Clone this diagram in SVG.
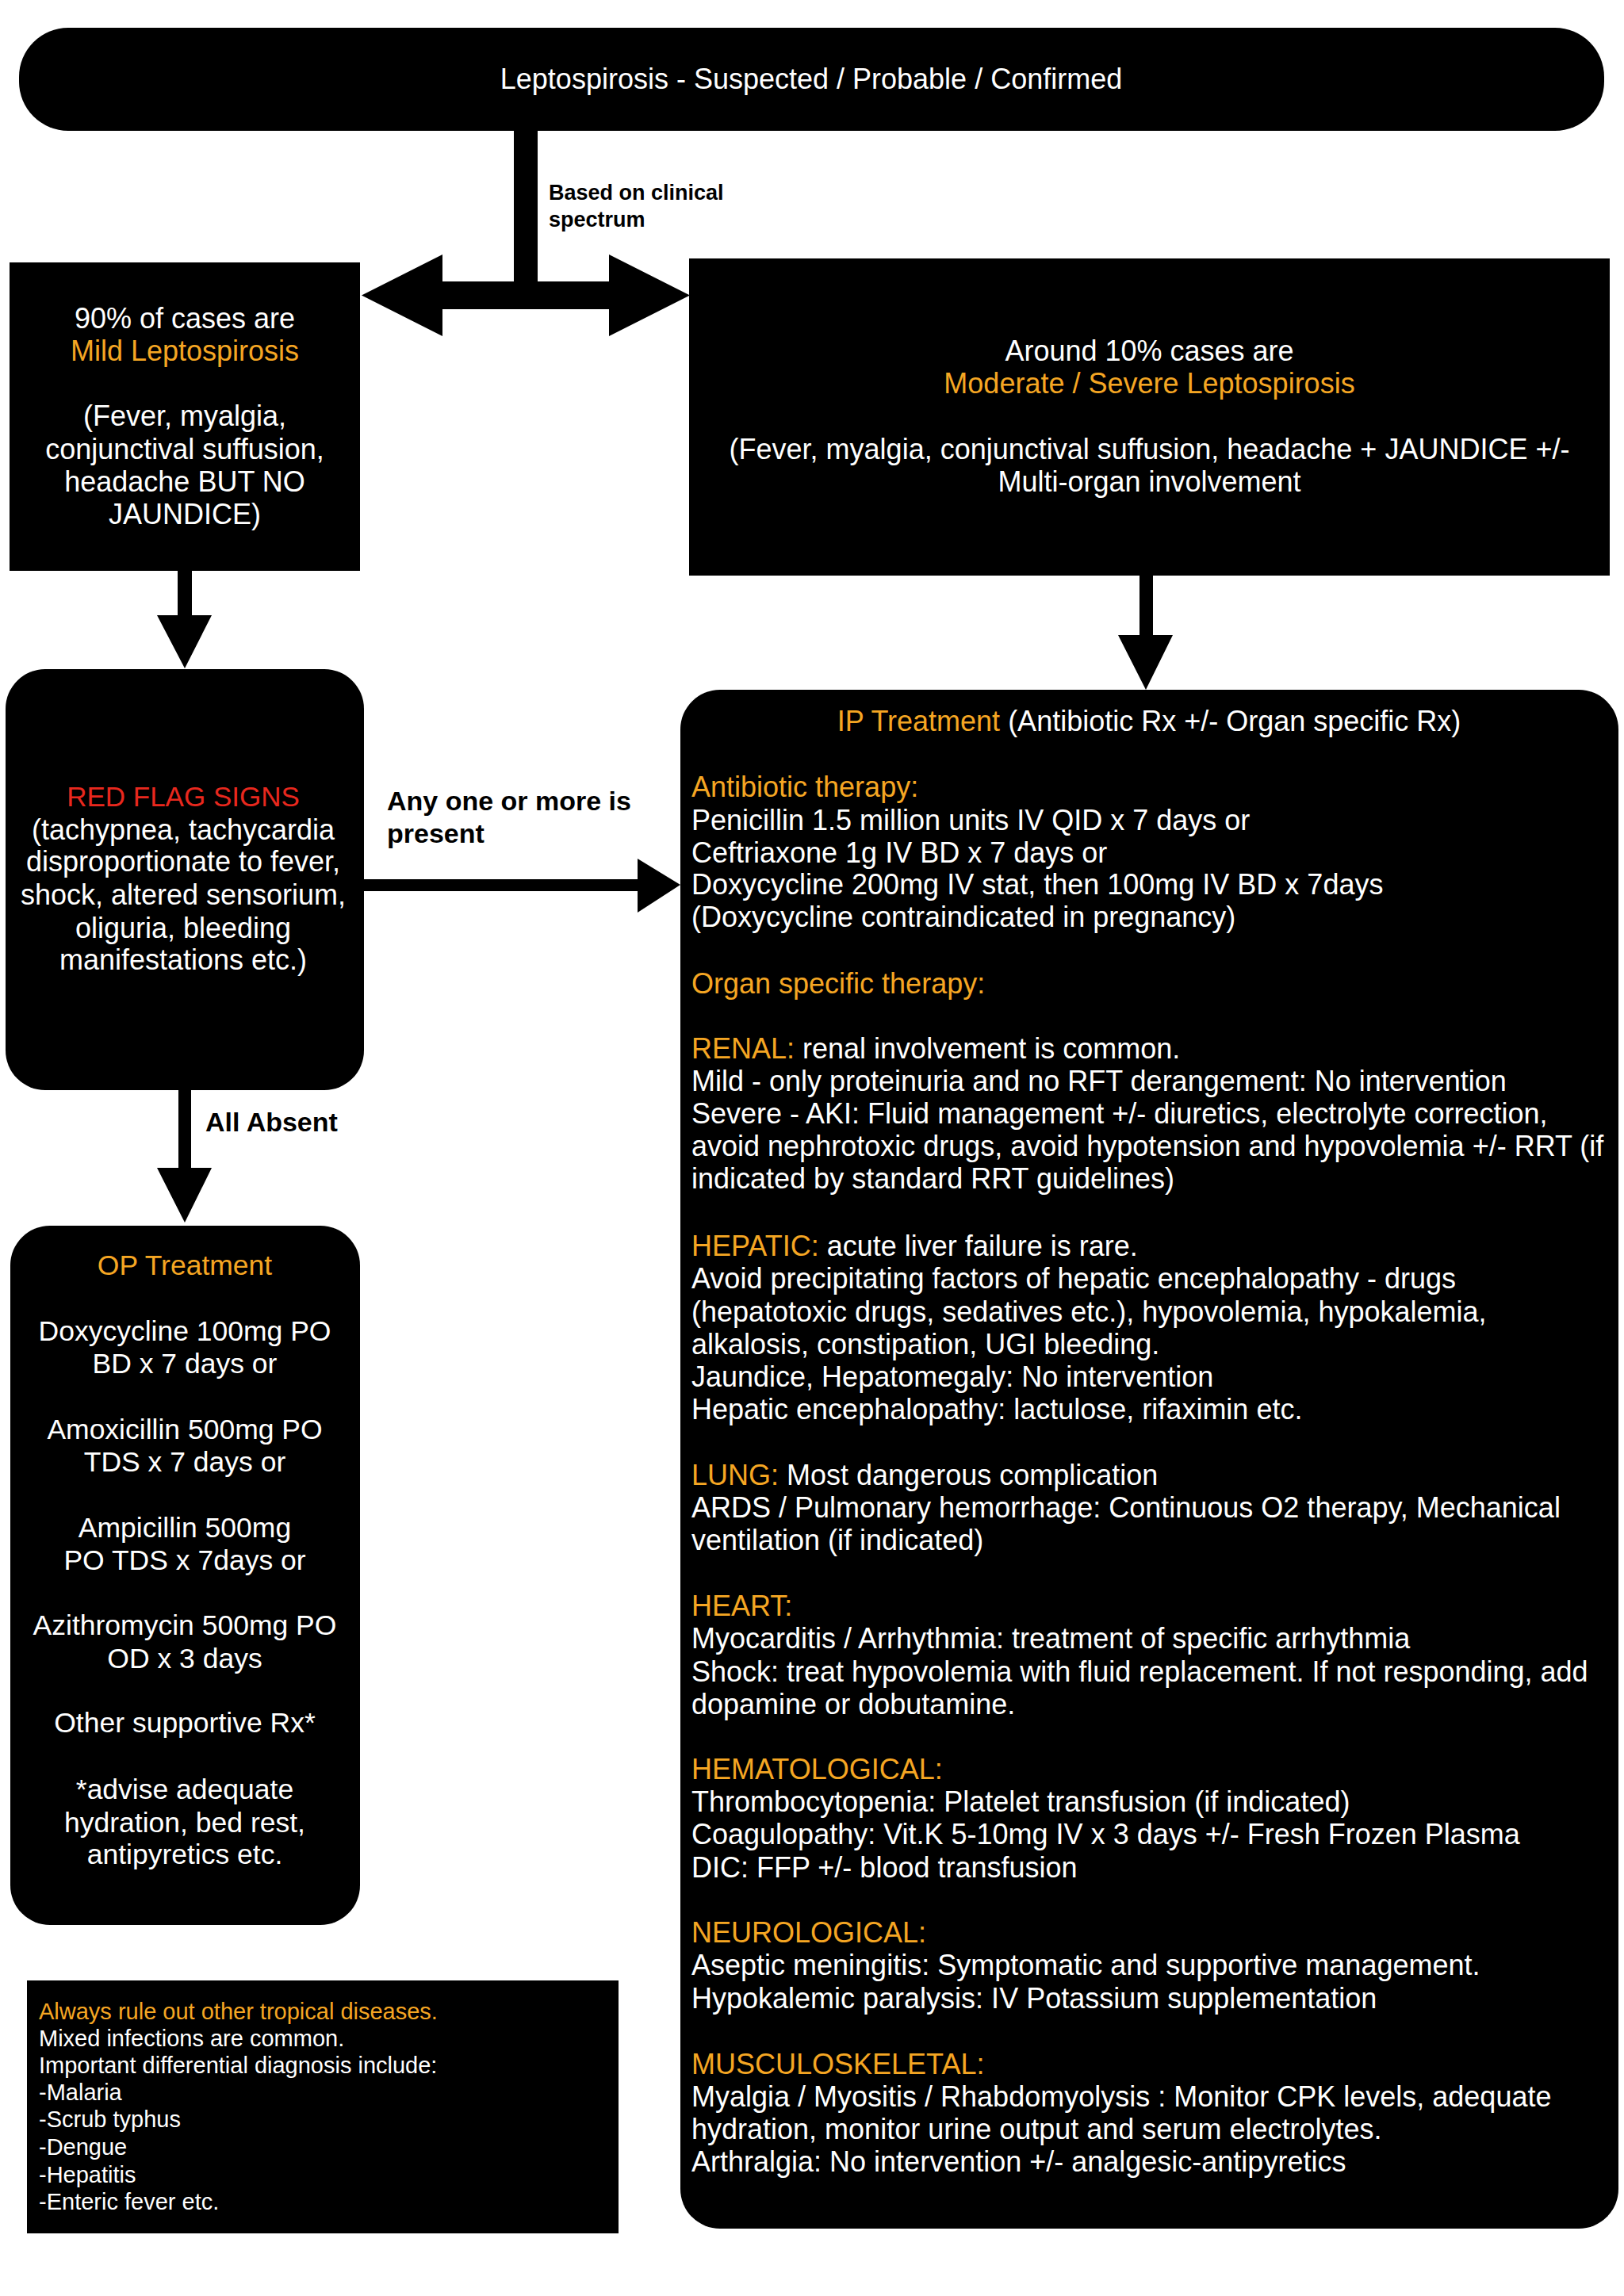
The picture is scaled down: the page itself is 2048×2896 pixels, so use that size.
<svg xmlns="http://www.w3.org/2000/svg" width="2048" height="2896" viewBox="0 0 2048 2896">
<style>
.box{fill:#000}
.t{font-family:"Liberation Sans",Arial,Helvetica,sans-serif;font-size:36px;fill:#fff}
.s{font-size:35.5px}
.ip{font-size:36px}
.n{font-size:29px}
.c{text-anchor:middle}
.o{fill:#F5A623}
.r{fill:#E8281E}
.lbl{font-family:"Liberation Sans",Arial,Helvetica,sans-serif;font-weight:bold;font-size:34px;fill:#000}
.conn{fill:#000}
</style>
<rect x="0" y="0" width="2048" height="2896" fill="#fff"/>

<g id="connectors">
<path class="conn" d="M648,160 H678 V355 H768 V321 L870,372.5 L768,424 V390 H558 V424 L456,372.5 L558,321 V355 H648 Z"/>
<path class="conn" d="M224,715 H242 V776 H267 L233,843 L198,776 H224 Z"/>
<path class="conn" d="M455,1109 H804 V1083 L858,1116 L804,1151 V1124 H455 Z"/>
<path class="conn" d="M225,1370 H241 V1473 H267 L233,1542 L198,1473 H225 Z"/>
<path class="conn" d="M1437,720 H1454 V801 H1479 L1445,870 L1410,801 H1437 Z"/>
<text class="lbl" x="692" y="252" style="font-size:27px">Based on clinical</text>
<text class="lbl" x="692" y="286" style="font-size:27px">spectrum</text>
<text class="lbl" x="488" y="1022">Any one or more is</text>
<text class="lbl" x="488" y="1063">present</text>
<text class="lbl" x="259" y="1427">All Absent</text>
</g>

<g id="node-start">
<rect class="box" x="24" y="35" width="1999" height="130" rx="62" ry="62"/>
<text class="t c" x="1023" y="112">Leptospirosis - Suspected / Probable / Confirmed</text>
</g>

<g id="node-mild">
<rect class="box" x="12" y="331" width="442" height="389"/>
<text class="t c" x="233" y="414">90% of cases are</text>
<text class="t c o" x="233" y="455">Mild Leptospirosis</text>
<text class="t c" x="233" y="537">(Fever, myalgia,</text>
<text class="t c" x="233" y="579">conjunctival suffusion,</text>
<text class="t c" x="233" y="620">headache BUT NO</text>
<text class="t c" x="233" y="661">JAUNDICE)</text>
</g>

<g id="node-moderate">
<rect class="box" x="869" y="326" width="1161" height="400"/>
<text class="t c" x="1449.5" y="455">Around 10% cases are</text>
<text class="t c o" x="1449.5" y="496">Moderate / Severe Leptospirosis</text>
<text class="t c" x="1449.5" y="579">(Fever, myalgia, conjunctival suffusion, headache + JAUNDICE +/-</text>
<text class="t c" x="1449.5" y="620">Multi-organ involvement</text>
</g>

<g id="node-redflag">
<rect class="box" x="7" y="844" width="452" height="531" rx="50" ry="50"/>
<text class="t c r" x="231" y="1017" style="font-size:35px">RED FLAG SIGNS</text>
<text class="t c" x="231" y="1059">(tachypnea, tachycardia</text>
<text class="t c" x="231" y="1099">disproportionate to fever,</text>
<text class="t c" x="231" y="1141">shock, altered sensorium,</text>
<text class="t c" x="231" y="1183">oliguria, bleeding</text>
<text class="t c" x="231" y="1223">manifestations etc.)</text>
</g>

<g id="node-op">
<rect class="box" x="13" y="1546" width="441" height="882" rx="50" ry="50"/>
<text class="t s c o" x="233" y="1608">OP Treatment</text>
<text class="t s c" x="233" y="1691">Doxycycline 100mg PO</text>
<text class="t s c" x="233" y="1732">BD x 7 days or</text>
<text class="t s c" x="233" y="1815">Amoxicillin 500mg PO</text>
<text class="t s c" x="233" y="1856">TDS x 7 days or</text>
<text class="t s c" x="233" y="1939">Ampicillin 500mg</text>
<text class="t s c" x="233" y="1980">PO TDS x 7days or</text>
<text class="t s c" x="233" y="2062">Azithromycin 500mg PO</text>
<text class="t s c" x="233" y="2104">OD x 3 days</text>
<text class="t s c" x="233" y="2185">Other supportive Rx*</text>
<text class="t s c" x="233" y="2269">*advise adequate</text>
<text class="t s c" x="233" y="2311">hydration, bed rest,</text>
<text class="t s c" x="233" y="2351">antipyretics etc.</text>
</g>

<g id="node-note">
<rect class="box" x="34" y="2498" width="746" height="319"/>
<text class="t n o" x="49" y="2547">Always rule out other tropical diseases.</text>
<text class="t n" x="49" y="2581">Mixed infections are common.</text>
<text class="t n" x="49" y="2615">Important differential diagnosis include:</text>
<text class="t n" x="49" y="2649">-Malaria</text>
<text class="t n" x="49" y="2683">-Scrub typhus</text>
<text class="t n" x="49" y="2718">-Dengue</text>
<text class="t n" x="49" y="2753">-Hepatitis</text>
<text class="t n" x="49" y="2787">-Enteric fever etc.</text>
</g>

<g id="node-ip">
<rect class="box" x="858" y="870" width="1183" height="1941" rx="50" ry="50"/>
<text class="t ip c" x="1449" y="922"><tspan class="o">IP Treatment</tspan> (Antibiotic Rx +/- Organ specific Rx)</text>
<text class="t ip o" x="872" y="1005">Antibiotic therapy:</text>
<text class="t ip" x="872" y="1047">Penicillin 1.5 million units IV QID x 7 days or</text>
<text class="t ip" x="872" y="1088">Ceftriaxone 1g IV BD x 7 days or</text>
<text class="t ip" x="872" y="1128">Doxycycline 200mg IV stat, then 100mg IV BD x 7days</text>
<text class="t ip" x="872" y="1169">(Doxycycline contraindicated in pregnancy)</text>
<text class="t ip o" x="872" y="1253">Organ specific therapy:</text>
<text class="t ip" x="872" y="1335"><tspan class="o">RENAL:</tspan> renal involvement is common.</text>
<text class="t ip" x="872" y="1376">Mild - only proteinuria and no RFT derangement: No intervention</text>
<text class="t ip" x="872" y="1417">Severe - AKI: Fluid management +/- diuretics, electrolyte correction,</text>
<text class="t ip" x="872" y="1458">avoid nephrotoxic drugs, avoid hypotension and hypovolemia +/- RRT (if</text>
<text class="t ip" x="872" y="1499">indicated by standard RRT guidelines)</text>
<text class="t ip" x="872" y="1584"><tspan class="o">HEPATIC:</tspan> acute liver failure is rare.</text>
<text class="t ip" x="872" y="1625">Avoid precipitating factors of hepatic encephalopathy - drugs</text>
<text class="t ip" x="872" y="1667">(hepatotoxic drugs, sedatives etc.), hypovolemia, hypokalemia,</text>
<text class="t ip" x="872" y="1708">alkalosis, constipation, UGI bleeding.</text>
<text class="t ip" x="872" y="1749">Jaundice, Hepatomegaly: No intervention</text>
<text class="t ip" x="872" y="1790">Hepatic encephalopathy: lactulose, rifaximin etc.</text>
<text class="t ip" x="872" y="1873"><tspan class="o">LUNG:</tspan> Most dangerous complication</text>
<text class="t ip" x="872" y="1914">ARDS / Pulmonary hemorrhage: Continuous O2 therapy, Mechanical</text>
<text class="t ip" x="872" y="1955">ventilation (if indicated)</text>
<text class="t ip o" x="872" y="2038">HEART:</text>
<text class="t ip" x="872" y="2079">Myocarditis / Arrhythmia: treatment of specific arrhythmia</text>
<text class="t ip" x="872" y="2121">Shock: treat hypovolemia with fluid replacement. If not responding, add</text>
<text class="t ip" x="872" y="2162">dopamine or dobutamine.</text>
<text class="t ip o" x="872" y="2244">HEMATOLOGICAL:</text>
<text class="t ip" x="872" y="2285">Thrombocytopenia: Platelet transfusion (if indicated)</text>
<text class="t ip" x="872" y="2326">Coagulopathy: Vit.K 5-10mg IV x 3 days +/- Fresh Frozen Plasma</text>
<text class="t ip" x="872" y="2368">DIC: FFP +/- blood transfusion</text>
<text class="t ip o" x="872" y="2450">NEUROLOGICAL:</text>
<text class="t ip" x="872" y="2491">Aseptic meningitis: Symptomatic and supportive management.</text>
<text class="t ip" x="872" y="2533">Hypokalemic paralysis: IV Potassium supplementation</text>
<text class="t ip o" x="872" y="2616">MUSCULOSKELETAL:</text>
<text class="t ip" x="872" y="2657">Myalgia / Myositis / Rhabdomyolysis : Monitor CPK levels, adequate</text>
<text class="t ip" x="872" y="2698">hydration, monitor urine output and serum electrolytes.</text>
<text class="t ip" x="872" y="2739">Arthralgia: No intervention +/- analgesic-antipyretics</text>
</g>
</svg>
